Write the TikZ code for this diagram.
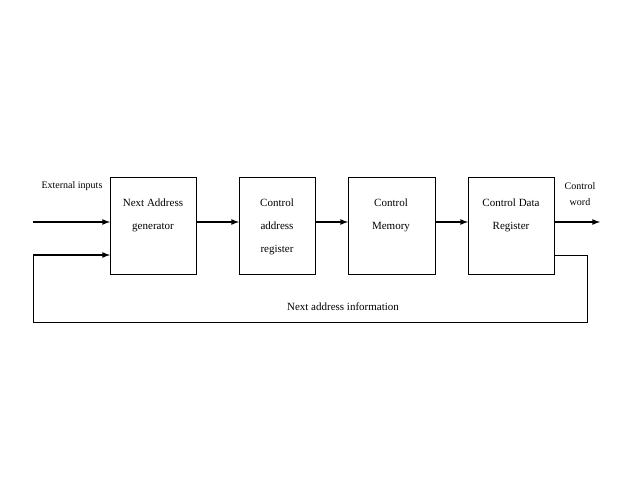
\documentclass[tikz,border=0pt]{standalone}
\usepackage{fontspec}
\setmainfont{Liberation Serif}
\begin{document}
\begin{tikzpicture}[x=1pt,y=-1pt,
  blk/.style={draw,line width=0.8pt,minimum width=#1,minimum height=97pt,align=center,anchor=north west,inner sep=0pt},
  arr/.style={line width=1.6pt,-latex},
  ln/.style={line width=0.9pt},
  lbl/.style={font=\fontsize{11}{23}\selectfont,align=center}]
\useasboundingbox (0,0) rectangle (638,478);
\node[blk=86pt] (b1) at (110,177) {};
\node[lbl,anchor=north] at (153,195) {Next Address\\generator};
\node[blk=76pt] (b2) at (239,177) {};
\node[lbl,anchor=north] at (277,195) {Control\\address\\register};
\node[blk=87pt] (b3) at (348,177) {};
\node[lbl,anchor=north] at (391,195) {Control\\Memory};
\node[blk=86pt] (b4) at (468,177) {};
\node[lbl,anchor=north] at (511,195) {Control Data\\Register};
\coordinate (in1) at (33,222);
\coordinate (in2) at (33,255);
\coordinate (out) at (600,222);
\coordinate (fb) at (587,255);
\draw[arr] (in1) -- (in1 -| b1.west);
\draw[arr] (in2) -- (in2 -| b1.west);
\draw[arr] (b1.east |- in1) -- (b2.west |- in1);
\draw[arr] (b2.east |- in1) -- (b3.west |- in1);
\draw[arr] (b3.east |- in1) -- (b4.west |- in1);
\draw[arr] (b4.east |- in1) -- (out);
\draw[ln] (b4.east |- fb) -- (fb) -- (587,322) -- (33,322) -- (in2);
\node[font=\fontsize{10}{12}\selectfont] at (72,186) {External inputs};
\node[font=\fontsize{10}{16}\selectfont,align=center] at (580,194) {Control\\word};
\node[font=\fontsize{11}{13}\selectfont] at (343,307) {Next address information};
\end{tikzpicture}
\end{document}
